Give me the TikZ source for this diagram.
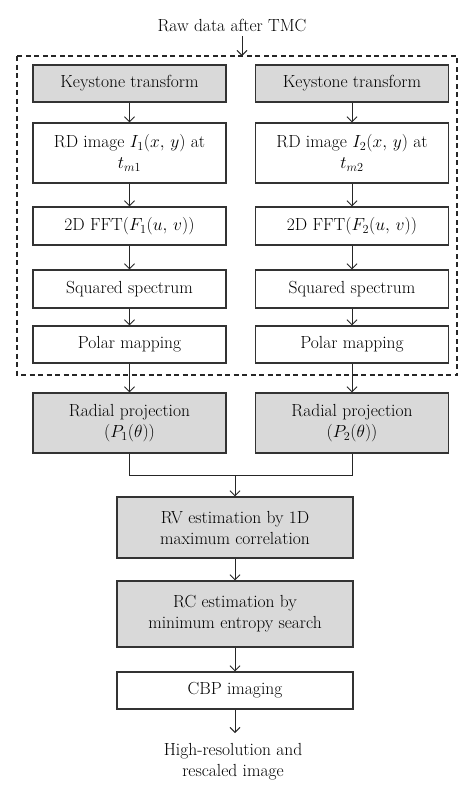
\RequirePackage{fix-cm}
\documentclass[tikz,border=0pt]{standalone}
\usetikzlibrary{arrows.meta}
\begin{document}
\begin{tikzpicture}[x=1pt,y=-1pt,
  every node/.style={font=\fontsize{17.5}{21}\selectfont},
  boxw/.style={draw=black!80, line width=1.3pt, fill=white, align=center, inner sep=0pt, minimum width=193pt},
  boxg/.style={boxw, fill=black!15},
  arr/.style={draw=black!85, line width=0.9pt, -{Straight Barb[length=5pt,width=10pt,line width=0.9pt]}},
  ln/.style={draw=black!85, line width=0.9pt}]
\useasboundingbox (0,0) rectangle (474,801);
\node (raw) at (232,25) {Raw data after TMC};
\coordinate (rawa) at (242,36);
\coordinate (rawb) at (242,56);
\draw[dashed, dash pattern=on 5pt off 3.5pt, line width=1.1pt, draw=black!85] (17,56) rectangle (457,375);
% left column
\node[boxg, minimum height=37pt] (k1) at (129.5,83.5) {Keystone transform};
\node[boxw, minimum height=60pt] (rd1) at (129.5,153) {RD image $I_1(x,\,y)$ at\\$t_{m1}$};
\node[boxw, minimum height=38pt] (f1) at (129.5,226) {2D FFT$(F_1(u,\,v))$};
\node[boxw, minimum height=38pt] (s1) at (129.5,289) {Squared spectrum};
\node[boxw, minimum height=37pt] (p1) at (129.5,344.5) {Polar mapping};
\node[boxg, minimum height=60pt] (r1) at (129.5,423) {Radial projection\\$(P_1(\theta))$};
% right column
\node[boxg, minimum height=37pt] (k2) at (352,83.5) {Keystone transform};
\node[boxw, minimum height=60pt] (rd2) at (352,153) {RD image $I_2(x,\,y)$ at\\$t_{m2}$};
\node[boxw, minimum height=38pt] (f2) at (352,226) {2D FFT$(F_2(u,\,v))$};
\node[boxw, minimum height=38pt] (s2) at (352,289) {Squared spectrum};
\node[boxw, minimum height=37pt] (p2) at (352,344.5) {Polar mapping};
\node[boxg, minimum height=60pt] (r2) at (352,423) {Radial projection\\$(P_2(\theta))$};
% bottom
\node[boxg, minimum width=236pt, minimum height=61pt] (rv) at (235,527.5) {RV estimation by 1D\\maximum correlation};
\node[boxg, minimum width=236pt, minimum height=66pt] (rc) at (235,614) {RC estimation by\\minimum entropy search};
\node[boxw, minimum width=236pt, minimum height=37pt] (cbp) at (235,690.5) {CBP imaging};
\node[align=center] (out) at (233,762) {High-resolution and\\rescaled image};
\coordinate (cbpo) at (235,733);
% arrows
\draw[arr] (rawa) -- (rawb);
\foreach \c in {1,2}{
  \draw[arr] (k\c) -- (rd\c);
  \draw[arr] (rd\c) -- (f\c);
  \draw[arr] (f\c) -- (s\c);
  \draw[arr] (s\c) -- (p\c);
  \draw[arr] (p\c) -- (r\c);
}
\coordinate (m1) at (129.5,475);
\coordinate (m2) at (352,475);
\coordinate (mm) at (235,475);
\draw[ln] (r1.south) -- (m1) -- (m2) -- (r2.south);
\draw[arr] (mm) -- (rv);
\draw[arr] (rv) -- (rc);
\draw[arr] (rc) -- (cbp);
\draw[arr] (cbp) -- (cbpo);
\end{tikzpicture}
\end{document}
